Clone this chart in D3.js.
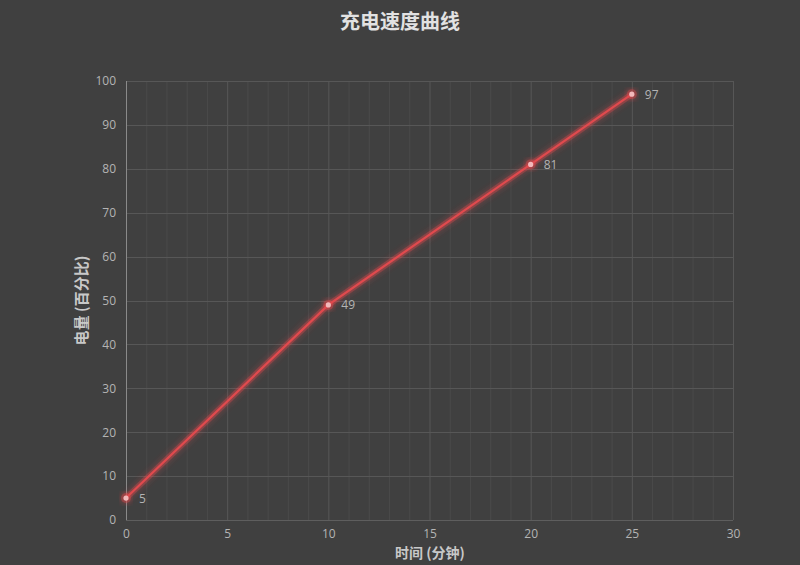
<!DOCTYPE html>
<html><head><meta charset="utf-8">
<script src="https://cdn.jsdelivr.net/npm/d3@7/dist/d3.min.js"></script>
<style>body{margin:0;background:#404040;}svg{display:block;font-family:"Noto Sans CJK SC","Open Sans",sans-serif;}</style>
</head><body>
<script>
const times = [0, 10, 20, 25];
const charge = [5, 49, 81, 97];
const xTicks = [0, 5, 10, 15, 20, 25, 30];
const yTicks = [0, 10, 20, 30, 40, 50, 60, 70, 80, 90, 100];
const title = "充电速度曲线";
const xTitle = "时间 (分钟)";
const yTitle = "电量 (百分比)";

const W = 800, H = 565;
const m = {l: 126, r: 67, t: 81, b: 45};
const svg = d3.select("body").append("svg").attr("width", W).attr("height", H);
svg.append("rect").attr("width", W).attr("height", H).attr("fill", "#404040");
const x = d3.scaleLinear().domain([0, 30]).range([m.l, W - m.r]);
const y = d3.scaleLinear().domain([0, 100]).range([H - m.b, m.t]);

const defs = svg.append("defs");
const f = defs.append("filter").attr("id", "glow").attr("x", "-20%").attr("y", "-20%").attr("width", "140%").attr("height", "140%");
f.append("feGaussianBlur").attr("in", "SourceGraphic").attr("stdDeviation", 3).attr("result", "b");
const fm = f.append("feMerge");
fm.append("feMergeNode").attr("in", "b");
fm.append("feMergeNode").attr("in", "SourceGraphic");

const g = svg.append("g");
g.selectAll(".minor").data(d3.range(0, 31).filter(v => v % 5 !== 0)).join("line")
  .attr("x1", d => x(d) + 0.5).attr("x2", d => x(d) + 0.5)
  .attr("y1", y(100)).attr("y2", y(0)).attr("stroke", "#4a4a4a").attr("stroke-width", 1);
g.selectAll(".vmaj").data(xTicks.filter(v => v > 0)).join("line")
  .attr("x1", d => x(d) + 0.5).attr("x2", d => x(d) + 0.5)
  .attr("y1", y(100)).attr("y2", y(0)).attr("stroke", "#575757").attr("stroke-width", 1);
g.selectAll(".hmaj").data(yTicks.filter(v => v > 0)).join("line")
  .attr("x1", x(0)).attr("x2", x(30))
  .attr("y1", d => Math.round(y(d)) + 0.5).attr("y2", d => Math.round(y(d)) + 0.5)
  .attr("stroke", "#575757").attr("stroke-width", 1);
g.append("line").attr("x1", x(0)).attr("x2", x(30)).attr("y1", y(0) + 0.5).attr("y2", y(0) + 0.5).attr("stroke", "#5e5e5e");
g.append("line").attr("x1", x(0) + 0.5).attr("x2", x(0) + 0.5).attr("y1", y(100)).attr("y2", y(0)).attr("stroke", "#8a8a8a");

const xAxis = d3.axisBottom(x).tickValues(xTicks).tickSize(0).tickPadding(9);
const xa = svg.append("g").attr("transform", `translate(0,${y(0)})`).call(xAxis);
xa.select(".domain").remove();
xa.selectAll("text").attr("fill", "#b4b4b4").attr("font-size", 12).attr("font-family", "'Open Sans',sans-serif");
const yAxis = d3.axisLeft(y).tickValues(yTicks).tickSize(0).tickPadding(10);
const ya = svg.append("g").attr("transform", `translate(${x(0)},0)`).call(yAxis);
ya.select(".domain").remove();
ya.selectAll("text").attr("fill", "#b4b4b4").attr("font-size", 12).attr("font-family", "'Open Sans',sans-serif");

const data = times.map((t, i) => ({t, v: charge[i]}));
const line = d3.line().x(d => x(d.t)).y(d => y(d.v));
svg.append("path").datum(data).attr("d", line).attr("fill", "none")
  .attr("stroke", "#e0474c").attr("stroke-width", 6).attr("stroke-opacity", 0.35).attr("filter", "url(#glow)");
svg.append("path").datum(data).attr("d", line).attr("fill", "none")
  .attr("stroke", "#e04a4e").attr("stroke-width", 2.2);
svg.selectAll(".glowpt").data(data).join("circle")
  .attr("cx", d => x(d.t)).attr("cy", d => y(d.v)).attr("r", 5)
  .attr("fill", "#e0474c").attr("opacity", 0.5).attr("filter", "url(#glow)");
svg.selectAll(".pt").data(data).join("circle")
  .attr("cx", d => x(d.t)).attr("cy", d => y(d.v)).attr("r", 2.6)
  .attr("fill", "#f2b8ba");
svg.selectAll(".lbl").data(data).join("text")
  .attr("x", d => x(d.t) + 13).attr("y", d => y(d.v) + 4.5)
  .attr("fill", "#b4b4b4").attr("font-size", 12).attr("font-family", "'Open Sans',sans-serif")
  .text(d => d.v);

svg.append("text").attr("x", 400).attr("y", 29).attr("text-anchor", "middle")
  .attr("fill", "#e2e2e2").attr("font-size", 20).attr("font-weight", "bold").text(title);
svg.append("text").attr("x", 430).attr("y", 558).attr("text-anchor", "middle")
  .attr("fill", "#c8c8c8").attr("font-size", 14).attr("font-weight", "bold").text(xTitle);
svg.append("text").attr("transform", `translate(87,${(y(0) + y(100)) / 2}) rotate(-90)`).attr("text-anchor", "middle")
  .attr("fill", "#c8c8c8").attr("font-size", 15).attr("font-weight", "bold").text(yTitle);
</script>
</body></html>
